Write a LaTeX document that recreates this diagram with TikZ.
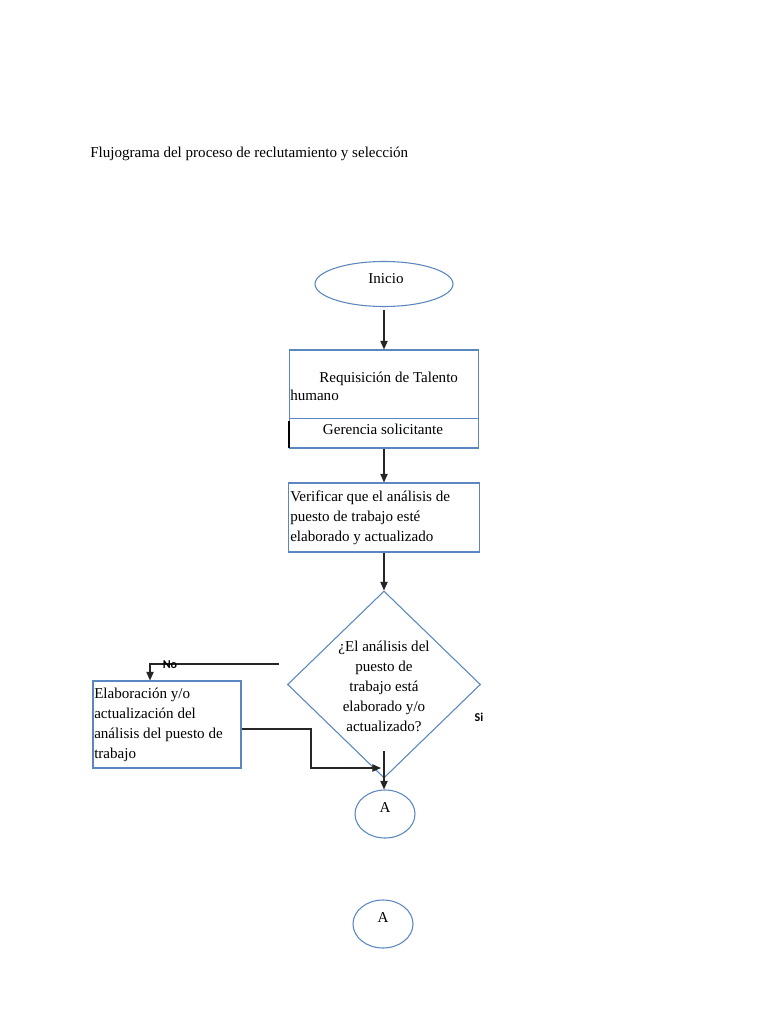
\documentclass[tikz,border=0pt]{standalone}
\usepackage{fontspec}
\setmainfont{Liberation Serif}
\newfontfamily\lblfont{Carlito}
\usetikzlibrary{shapes.geometric,arrows.meta}
\definecolor{shapeblue}{HTML}{5A87C0}
\tikzset{
  every node/.style={font=\fontsize{11.3}{15}\selectfont},
  blueshape/.style={draw=shapeblue, line width=0.8pt, inner sep=0pt, fill=white},
  conn/.style={draw=black!85, line width=0.9pt},
  arr/.style={conn, -{Triangle[length=6.5pt,width=5.5pt]}},
  lbl/.style={font=\lblfont\bfseries\fontsize{9}{10}\selectfont, inner sep=0pt},
  txt/.style={inner sep=0pt}
}
\begin{document}
\begin{tikzpicture}[x=0.75pt,y=-0.75pt]
\useasboundingbox[fill=white] (0,0) rectangle (768,1024);

% title
\node[txt, anchor=base west] (title) at (90,157) {Flujograma del proceso de reclutamiento y selección};

% shapes
\node[blueshape, ellipse, minimum width=103.5pt, minimum height=33.75pt] (inicio) at (384,284) {};
\node[txt] (inicioT) at (386,279) {Inicio};

\node[blueshape, rectangle, minimum width=141.75pt, minimum height=73.5pt] (req) at (384,399) {};
\draw[draw=shapeblue, line width=0.8pt] ([yshift=22.5pt]req.south west) coordinate (divw) -- ([yshift=22.5pt]req.south east) coordinate (dive);
\draw[black, line width=0.9pt] ([yshift=-1.5pt]divw) -- ([yshift=0.75pt]req.south west);
\node[txt, anchor=base west] (reqT1) at (319,382) {Requisición de Talento};
\node[txt, anchor=base west] (reqT2) at (290,400) {humano};
\node[txt] (reqT3) at (383,429) {Gerencia solicitante};

\node[blueshape, rectangle, minimum width=143.25pt, minimum height=51.75pt] (ver) at (384,517.5) {};
\node[txt, anchor=west, align=left] (verT) at (290,517.5) {Verificar que el análisis de\\puesto de trabajo esté\\elaborado y actualizado};

\node[blueshape, diamond, minimum width=144.75pt, minimum height=140.25pt] (dia) at (384,684.5) {};
\node[txt, align=center] (diaT) at (384,686.5) {¿El análisis del\\puesto de\\trabajo está\\elaborado y/o\\actualizado?};

\node[blueshape, rectangle, minimum width=111pt, minimum height=65.25pt] (elab) at (167,724.5) {};
\node[txt, anchor=west, align=left] (elabT) at (94,724.5) {Elaboración y/o\\actualización del\\análisis del puesto de\\trabajo};

\node[blueshape, ellipse, minimum width=45pt, minimum height=36pt] (a1) at (385,814) {};
\node[txt] (a1T) at (385,808) {A};
\node[blueshape, ellipse, minimum width=45pt, minimum height=36pt] (a2) at (383,924) {};
\node[txt] (a2T) at (383,918) {A};

% connectors
\draw[arr] ([yshift=-2.5pt]inicio.south) -- (req.north);
\draw[arr] (req.south) -- (ver.north);
\draw[arr] (ver.south) -- (dia.north);

\coordinate (nostart) at (279,664);
\draw[arr] (nostart) -| ([xshift=-12.75pt]elab.north);
\node[lbl] (nolbl) at (170,665) {No};

\coordinate (j1) at (311,768);
\coordinate (j2) at (381,768);
\draw[arr] ([yshift=-3.4pt]elab.east) -| (j1) -- (j2);

\coordinate (v1) at (384,751);
\draw[arr] (v1) -- (a1.north -| v1);
\node[lbl] (silbl) at (479,717) {Si};
\end{tikzpicture}
\end{document}
